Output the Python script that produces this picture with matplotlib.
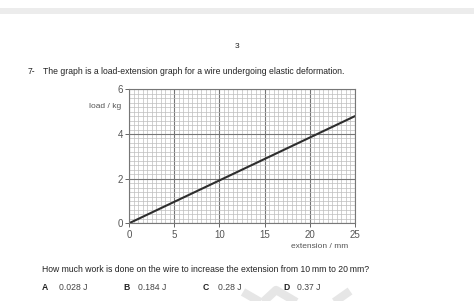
import matplotlib
matplotlib.use("Agg")
import matplotlib.pyplot as plt
import numpy as np
from matplotlib.patches import Rectangle
from matplotlib.lines import Line2D

plt.rcParams['font.family'] = ['Liberation Sans', 'DejaVu Sans']

extension_mm = [0, 25]
load_kg = [0, 4.8]
x_ticks = [0, 5, 10, 15, 20, 25]
y_ticks = [0, 2, 4, 6]
options = [("A", "0.028 J"), ("B", "0.184 J"), ("C", "0.28 J"), ("D", "0.37 J")]

W, H = 474, 301
fig = plt.figure(figsize=(W / 100, H / 100), dpi=100)
fig.patch.set_facecolor('white')


def fx(px):
    return px / W


def fy(py):
    return 1 - py / H


# top grey band
fig.patches.append(Rectangle((0, fy(14)), 1, 6 / H, transform=fig.transFigure,
                             facecolor='#ececec', edgecolor='none'))

# faint watermark strokes at the bottom
for xs, ys in [([243, 262], [292, 303]),
               ([262, 276, 298], [303, 290, 303]),
               ([333, 350], [303, 291])]:
    fig.lines.append(Line2D([fx(v) for v in xs], [fy(v) for v in ys], transform=fig.transFigure,
                            color='#e6e6e6', linewidth=6, solid_capstyle='butt', zorder=0))

fig.text(fx(237), fy(47), "3", fontsize=6, ha='center', va='center', color='#222')
fig.text(fx(28), fy(72), "7-", fontsize=6.2, ha='left', va='center', color='#222')
fig.text(fx(43), fy(72), "The graph is a load-extension graph for a wire undergoing elastic deformation.",
         fontsize=6.2, ha='left', va='center', color='#222')

ax = fig.add_axes([fx(129), fy(223.3), fx(355) - fx(129), fy(89.3) - fy(223.3)])
ax.set_xlim(0, 25)
ax.set_ylim(0, 6)
ax.set_xticks(x_ticks)
ax.set_yticks(y_ticks)
ax.set_xticks(np.arange(0, 25.01, 0.5), minor=True)
ax.set_yticks(np.arange(0, 6.01, 0.2), minor=True)
ax.grid(which='minor', color='#bdbdbd', linewidth=0.5)
ax.grid(which='major', color='#767676', linewidth=0.8)
ax.set_axisbelow(True)
ax.tick_params(which='minor', length=0)
ax.tick_params(which='major', length=3, width=0.7, color='#666', labelsize=7,
               labelcolor='#555', pad=1.5)
for s in ax.spines.values():
    s.set_color('#777')
    s.set_linewidth(0.8)

ax.plot(extension_mm, load_kg, color='#2e2e2e', linewidth=1.5, solid_capstyle='round')

fig.text(fx(105), fy(106), "load / kg", fontsize=6, ha='center', va='center', color='#555')
fig.text(fx(320), fy(247), "extension / mm", fontsize=6, ha='center', va='center', color='#555')

fig.text(fx(42), fy(269), "How much work is done on the wire to increase the extension from 10\u2009mm to 20\u2009mm?",
         fontsize=6.2, ha='left', va='center', color='#222')

opt_x = [(42, 59), (123, 138), (203, 218), (283, 297)]
for (lab, val), (xl, xv) in zip(options, opt_x):
    fig.text(fx(xl), fy(288), lab, fontsize=6.2, fontweight='bold', ha='left', va='center', color='#222')
    fig.text(fx(xv), fy(288), val, fontsize=6.2, ha='left', va='center', color='#444')

fig.savefig("out.png", dpi=100)
